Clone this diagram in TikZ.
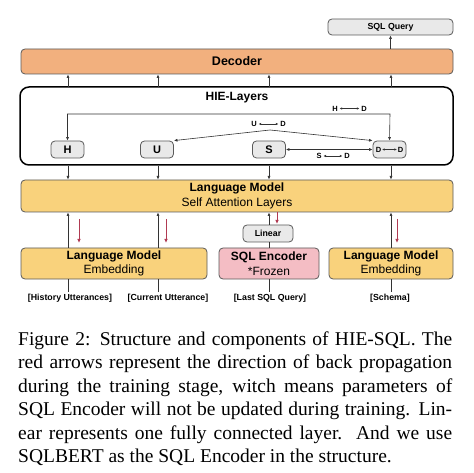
\documentclass[tikz,border=0pt]{standalone}
\usepackage{fontspec}
\setmainfont{Liberation Serif}
\setsansfont{Liberation Sans}
\usetikzlibrary{arrows.meta}
\definecolor{decfill}{HTML}{F2B07E}
\definecolor{lmfill}{HTML}{F9D27C}
\definecolor{sqlfill}{HTML}{F4BDC4}
\definecolor{grayfill}{HTML}{E9E9E9}
\definecolor{boxline}{HTML}{5A5A5A}
\definecolor{redarrow}{HTML}{B03A52}
\tikzset{
  blk/.style={draw=boxline, line width=0.8pt, rounded corners=4pt, inner sep=0pt, font=\sffamily},
  smallbox/.style={blk, fill=grayfill, minimum width=33pt, minimum height=17pt, font=\sffamily\bfseries\fontsize{11}{13}\selectfont},
  lbl/.style={font=\sffamily\bfseries\fontsize{8.8}{10}\selectfont, inner sep=0.5pt},
  tinylbl/.style={font=\sffamily\bfseries\fontsize{7.5}{9}\selectfont, inner sep=1.8pt},
  arr/.style={-{Latex[length=3.5pt,width=3pt]}, line width=0.6pt, draw=black!80},
  darr/.style={{Latex[length=3.5pt,width=3pt]}-{Latex[length=3.5pt,width=3pt]}, line width=0.6pt, draw=black!80},
  minidarr/.style={{Latex[length=2.5pt,width=2.5pt]}-{Latex[length=2.5pt,width=2.5pt]}, line width=0.5pt, draw=black!80},
  rarr/.style={-{Latex[length=4pt,width=3.5pt]}, line width=0.8pt, draw=redarrow},
  mtext/.style={align=center, font=\sffamily\fontsize{12}{14.5}\selectfont},
}
\begin{document}
\begin{tikzpicture}[x=1pt,y=-1pt]
\useasboundingbox (0,0) rectangle (474,473);
% SQL Query
\node[blk, fill=grayfill, minimum width=125pt, minimum height=16pt, font=\sffamily\bfseries\fontsize{8.8}{10}\selectfont] (q) at (390.5,27) {SQL Query};
% Decoder
\node[blk, fill=decfill, minimum width=432pt, minimum height=25pt, font=\sffamily\bfseries\fontsize{12.5}{14}\selectfont] (dec) at (237,61.5) {Decoder};
% HIE-Layers
\node[draw=black, line width=1.5pt, rounded corners=9pt, minimum width=433pt, minimum height=78pt, inner sep=0pt] (hie) at (236.5,126) {};
\node[font=\sffamily\bfseries\fontsize{12}{14}\selectfont] (hiet) at (237,97.5) {HIE-Layers};
\node[smallbox] (H) at (67.5,149.5) {H};
\node[smallbox] (U) at (157,149.5) {U};
\node[smallbox] (S) at (269,149.5) {S};
\node[smallbox] (D) at (389.5,149.5) {};
\node[tinylbl, inner sep=0.8pt] (dd1) at (378.5,149.5) {D};
\node[tinylbl, inner sep=0.8pt] (dd2) at (400.5,149.5) {D};
\draw[minidarr] (dd1) -- (dd2);
% H <-> D
\coordinate (hdl) at (67.5,114);
\coordinate (hdr) at (390,114);
\draw[darr] (H.north) -- (hdl) -- (hdr) -- (D.north);
\node[tinylbl] (hd1) at (335,108.5) {H};
\node[tinylbl] (hd2) at (364,108.5) {D};
\draw[minidarr] (hd1) -- (hd2);
% U <-> D
\coordinate (udp) at (270,130);
\draw[darr] (U.north east) -- (udp) -- (D.north west);
\node[tinylbl] (ud1) at (254,124) {U};
\node[tinylbl] (ud2) at (283,124) {D};
\draw[minidarr] (ud1) -- (ud2);
% S <-> D
\draw[darr] (S.east) -- (D.west);
\node[tinylbl] (sd1) at (319,156) {S};
\node[tinylbl] (sd2) at (347,156) {D};
\draw[minidarr] (sd1) -- (sd2);
% Language model
\node[blk, fill=lmfill, minimum width=432pt, minimum height=32pt, mtext] (lm) at (237,196) {\textbf{Language Model}\\Self Attention Layers};
% bottom boxes
\node[blk, fill=lmfill, minimum width=186pt, minimum height=31pt, mtext] (e1) at (114,263.5) {\textbf{Language Model}\\Embedding};
\node[blk, fill=sqlfill, minimum width=100pt, minimum height=31pt, mtext] (se) at (269,263.5) {\textbf{SQL Encoder}\\*Frozen};
\node[blk, fill=lmfill, minimum width=124pt, minimum height=31pt, mtext] (e2) at (391,263.5) {\textbf{Language Model}\\Embedding};
\node[blk, fill=grayfill, minimum width=50pt, minimum height=17pt, font=\sffamily\bfseries\fontsize{8.8}{10}\selectfont] (lin) at (268,233.5) {Linear};
% input labels
\node[lbl] (i1) at (70,298.5) {[History Utterances]};
\node[lbl] (i2) at (168,298.5) {[Current Utterance]};
\node[lbl] (i3) at (270,298.5) {[Last SQL Query]};
\node[lbl] (i4) at (390,298.5) {[Schema]};
\draw[line width=0.6pt, black!80] (68,292) -- (68,279);
\draw[line width=0.6pt, black!80] (158,292) -- (158,279);
\draw[line width=0.6pt, black!80] (269,292) -- (269,279);
\draw[line width=0.6pt, black!80] (391,292) -- (391,279);
% upward arrows
\draw[arr] (dec.north -| q.south) -- (q.south);
\foreach \x in {68,158,269,391}{
  \draw[arr] (\x,87) -- (\x,74.5);
  \draw[arr] (\x,166) -- (\x,179.5);
}
\draw[arr] (68,248) -- (68,212.5);
\draw[arr] (158,248) -- (158,212.5);
\draw[arr] (269,225) -- (269,212.5);
\draw[arr] (391,248) -- (391,212.5);
\draw[line width=0.6pt, black!80] (269,248) -- (269,242);
% red back-prop arrows
\draw[rarr] (79,219) -- (79,243);
\draw[rarr] (166,219) -- (166,243);
\draw[rarr] (277,212.5) -- (277,224);
\draw[rarr] (397,219) -- (397,243);
% caption
\node[anchor=north west, inner sep=0pt, text width=434pt, font=\fontsize{19.5}{23.4}\selectfont, align=justify] (cap) at (18,331.5) {Figure 2: Structure and components of HIE-SQL. The\linebreak red arrows represent the direction of back propagation\linebreak during the training stage, witch means parameters of\linebreak SQL Encoder will not be updated during training. Lin-\linebreak ear represents one fully connected layer.\ \ And we use\linebreak SQLBERT as the SQL Encoder in the structure.};
\end{tikzpicture}
\end{document}
